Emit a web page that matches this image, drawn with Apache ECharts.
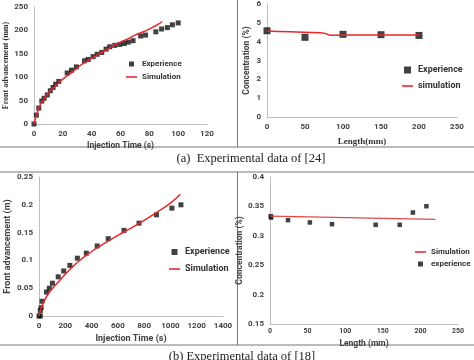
<!DOCTYPE html>
<html><head><meta charset="utf-8">
<script src="https://cdn.jsdelivr.net/npm/echarts@6/dist/echarts.min.js"></script>
<style>html,body{margin:0;padding:0;background:#fff}#c{width:474px;height:360px}</style>
</head><body><div id="c"></div>
<script>
// Panel (a) left: front advancement
const aTimeExp = [0,1.6,3.3,5.4,7,9.2,11.3,13.2,15,17.2,23,26,29.4,35,37.6,41,43.8,47,50,52.5,56,59.5,62.6,65.4,68.7,74,77.4,84.5,88.5,92.5,96,100];
const aFrontExp = [0,19,34,49,55,62,71,78,85,91,109,115,122,135,138,144,149,153,160,165,168,170,172,175,178,188,190,197,203,206,212,216];
const aTimeSim = [0,2,5,10,15,20,25,30,35,40,45,50,55,60,65,70,75,80,85,89];
const aFrontSim = [0,22,45,66,82,96,107,120,131,140,150,158,167,175,182,190,196,203,211,219];
// Panel (a) right: concentration
const aLenExp = [0,50,100,150,200];
const aConcExp = [4.58,4.23,4.39,4.37,4.33];
const aLenSim = [0,30,70,76,82,90,100,150,200];
const aConcSim = [4.57,4.52,4.48,4.44,4.36,4.34,4.35,4.35,4.35];
// Panel (b) left: front advancement
const bTimeExp = [0,10,10,16,23,57,78,102,146,188,235,292,360,443,527,647,761,894,1011,1080];
const bFrontExp = [0,0,0.010,0.015,0.0265,0.043,0.050,0.059,0.0705,0.081,0.091,0.104,0.113,0.126,0.139,0.154,0.167,0.182,0.194,0.200];
const bTimeSim = [0,10,30,60,100,150,200,300,400,500,600,700,800,900,1000,1075];
const bFrontSim = [0,0.01,0.022,0.036,0.049,0.062,0.075,0.098,0.116,0.131,0.145,0.158,0.172,0.187,0.203,0.219];
// Panel (b) right: concentration
const bLenExp = [1,1.5,24,53,82.5,140.5,172.5,190,208];
const bConcExp = [0.3334,0.331,0.3266,0.3227,0.3198,0.3187,0.3187,0.3396,0.3503];
const bLenSim = [0,220];
const bConcSim = [0.3334,0.3278];
// Labels
const captionA = '(a)  Experimental data of [24]';
const captionB = '(b) Experimental data of [18]';

const zip = (xs, ys) => xs.map((x, i) => [x, ys[i]]);
const RED = '#e8262a';
const SANS = '"Liberation Sans Narrow", Roboto, sans-serif';
const SQ = 'path://M0,0L10,0L10,10L0,10Z';
const LN = 'path://M0,0L14,0L14,2L0,2Z';
const lblFont = {fontSize: 8, fontWeight: 'bold', color: '#404040', fontFamily: SANS};
function xAx(idx, min, max, interval, name, gap, extra) {
  return Object.assign({gridIndex: idx, type: 'value', min, max, interval, name, nameLocation: 'middle', nameGap: gap,
    nameTextStyle: {fontSize: 8.5, fontWeight: 'bold', color: '#404040', fontFamily: SANS},
    axisLine: {lineStyle: {color: '#bfbfbf'}}, axisTick: {show: false}, splitLine: {show: false},
    axisLabel: Object.assign({margin: 6, formatter: v => String(v)}, lblFont)}, extra || {});
}
function yAx(idx, min, max, interval, name, gap, extra, fmt) {
  return Object.assign({gridIndex: idx, type: 'value', min, max, interval, name, nameLocation: 'middle', nameGap: gap,
    nameTextStyle: {fontSize: 8.5, fontWeight: 'bold', color: '#404040', fontFamily: SANS},
    axisLine: {show: true, lineStyle: {color: '#bfbfbf'}}, axisTick: {show: false}, splitLine: {show: false},
    axisLabel: Object.assign({margin: 6, formatter: fmt}, lblFont)}, extra || {});
}
const fmt2 = v => String(Math.round(v * 100) / 100);
const serifName = {fontSize: 9, fontWeight: 'bold', color: '#333', fontFamily: 'Liberation Serif'};
function leg(left, top, size, gap, fs, data) {
  return {orient: 'vertical', left, top, padding: 0, itemWidth: 11, itemHeight: size, itemGap: gap, itemStyle: {borderWidth: 0},
    selectedMode: false, data,
    textStyle: {fontSize: fs, lineHeight: fs, fontWeight: 'bold', color: '#333', fontFamily: SANS}};
}

const chart = echarts.init(document.getElementById('c'), null, {renderer: 'canvas'});
chart.setOption({
  animation: false,
  title: [
    {text: captionA, left: 246, top: 147, textAlign: 'center', textStyle: {fontFamily: 'Liberation Serif', fontSize: 12.5, fontWeight: 'normal', color: '#222'}},
    {text: captionB, left: 237, top: 345, textAlign: 'center', textStyle: {fontFamily: 'Liberation Serif', fontSize: 12.5, fontWeight: 'normal', color: '#222'}}
  ],
  grid: [
    {left: 34, top: 7, width: 173, height: 117},
    {left: 267, top: 4, width: 190, height: 113},
    {left: 39, top: 177, width: 184, height: 139},
    {left: 270, top: 177, width: 188, height: 147}
  ],
  xAxis: [
    xAx(0, 0, 120, 20, 'Injection Time (s)', 17),
    xAx(1, 0, 250, 50, 'Length(mm)', 20, {nameTextStyle: serifName}),
    xAx(2, 0, 1400, 200, 'Injection Time (s)', 18, {nameTextStyle: {fontSize: 9, fontWeight: 'bold', color: '#404040', fontFamily: SANS}}),
    xAx(3, 0, 250, 50, 'Length (mm)', 15, {axisLabel: Object.assign({margin: 4}, lblFont, {fontSize: 7})})
  ],
  yAxis: [
    yAx(0, 0, 250, 50, 'Front advancement (mm)', 23, {nameTextStyle: Object.assign({}, serifName, {fontSize: 8})}),
    yAx(1, 0, 6, 1, 'Concentration (%)', 16),
    yAx(2, 0, 0.25, 0.05, 'Front advancement (m)', 27, {nameTextStyle: {fontSize: 9, fontWeight: 'bold', color: '#404040', fontFamily: SANS}}, fmt2),
    yAx(3, 0.15, 0.4, 0.05, 'Concentration (%)', 22, null, fmt2)
  ],
  legend: [
    leg(126, 60, 5, 5, 8, [{name: 'Experience', icon: SQ}, {name: 'Simulation', icon: LN}]),
    leg(402, 65.5, 7, 7, 9, [{name: 'Experience', icon: SQ}, {name: 'simulation', icon: LN}]),
    leg(169, 247.5, 6, 8, 9, [{name: 'Experience', icon: SQ}, {name: 'Simulation', icon: LN}]),
    leg(415, 248, 5, 4, 8, [{name: 'Simulation', icon: LN}, {name: 'experience', icon: SQ}])
  ],
  series: [
    {name: 'Experience', type: 'scatter', xAxisIndex: 0, yAxisIndex: 0, symbol: 'rect', symbolSize: 5, itemStyle: {color: '#111'}, data: zip(aTimeExp, aFrontExp)},
    {name: 'Simulation', type: 'line', xAxisIndex: 0, yAxisIndex: 0, symbol: 'none', smooth: true, lineStyle: {color: RED, width: 1.5}, itemStyle: {color: RED}, data: zip(aTimeSim, aFrontSim)},
    {name: 'Experience', type: 'scatter', xAxisIndex: 1, yAxisIndex: 1, symbol: 'rect', symbolSize: 7, itemStyle: {color: '#111'}, data: zip(aLenExp, aConcExp)},
    {name: 'simulation', type: 'line', xAxisIndex: 1, yAxisIndex: 1, symbol: 'none', smooth: true, lineStyle: {color: RED, width: 1.5}, itemStyle: {color: RED}, data: zip(aLenSim, aConcSim)},
    {name: 'Experience', type: 'scatter', xAxisIndex: 2, yAxisIndex: 2, symbol: 'rect', symbolSize: 5, itemStyle: {color: '#111'}, data: zip(bTimeExp, bFrontExp)},
    {name: 'Simulation', type: 'line', xAxisIndex: 2, yAxisIndex: 2, symbol: 'none', smooth: true, lineStyle: {color: RED, width: 1.5}, itemStyle: {color: RED}, data: zip(bTimeSim, bFrontSim)},
    {name: 'Simulation', type: 'line', xAxisIndex: 3, yAxisIndex: 3, symbol: 'none', lineStyle: {color: '#e04848', width: 1.2}, itemStyle: {color: '#e04848'}, data: zip(bLenSim, bConcSim)},
    {name: 'experience', type: 'scatter', xAxisIndex: 3, yAxisIndex: 3, symbol: 'rect', symbolSize: 4.5, itemStyle: {color: '#111'}, data: zip(bLenExp, bConcExp)}
  ],
  graphic: [
    {type: 'line', shape: {x1: 0, y1: 147, x2: 474, y2: 147}, style: {stroke: '#777', lineWidth: 1}},
    {type: 'line', shape: {x1: 0, y1: 172, x2: 474, y2: 172}, style: {stroke: '#777', lineWidth: 1}},
    {type: 'line', shape: {x1: 0, y1: 345, x2: 474, y2: 345}, style: {stroke: '#777', lineWidth: 1}},
    {type: 'line', shape: {x1: 237.5, y1: 0, x2: 237.5, y2: 147}, style: {stroke: '#777', lineWidth: 1}},
    {type: 'line', shape: {x1: 237.5, y1: 172, x2: 237.5, y2: 345}, style: {stroke: '#777', lineWidth: 1}}
  ]
});
</script></body></html>
